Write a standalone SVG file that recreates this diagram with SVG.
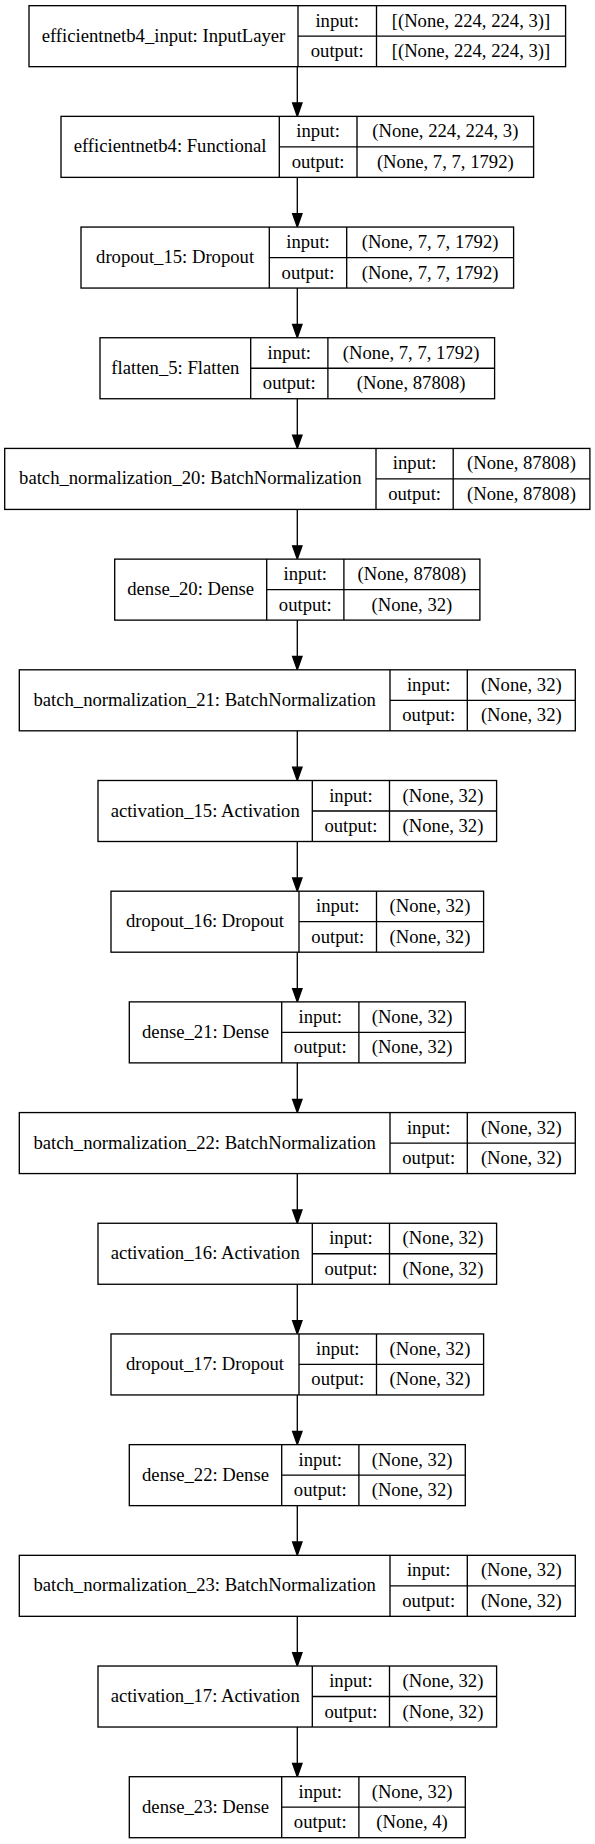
<svg xmlns="http://www.w3.org/2000/svg" width="595" height="1844" viewBox="0 0 595 1844">
<style>
.b{fill:#fff;stroke:#000;stroke-width:1.33}
.l{stroke:#000;stroke-width:1.33;fill:none}
.h{fill:#000;stroke:#000;stroke-width:1.33}
text{font-family:"Liberation Serif","Times New Roman",serif;font-size:18.67px;fill:#000;text-anchor:middle}
</style>
<rect width="595" height="1844" fill="#fff"/>
<g id="connectors">
<line class="l" x1="297.3" y1="66.7" x2="297.3" y2="103"/><polygon class="h" points="297.3,116.4 292.6,103 302,103"/>
<line class="l" x1="297.3" y1="177.4" x2="297.3" y2="213.7"/><polygon class="h" points="297.3,227.1 292.6,213.7 302,213.7"/>
<line class="l" x1="297.3" y1="288.1" x2="297.3" y2="324.4"/><polygon class="h" points="297.3,337.7 292.6,324.4 302,324.4"/>
<line class="l" x1="297.3" y1="398.7" x2="297.3" y2="435.1"/><polygon class="h" points="297.3,448.4 292.6,435.1 302,435.1"/>
<line class="l" x1="297.3" y1="509.4" x2="297.3" y2="545.8"/><polygon class="h" points="297.3,559.1 292.6,545.8 302,545.8"/>
<line class="l" x1="297.3" y1="620.1" x2="297.3" y2="656.5"/><polygon class="h" points="297.3,669.8 292.6,656.5 302,656.5"/>
<line class="l" x1="297.3" y1="730.8" x2="297.3" y2="767.2"/><polygon class="h" points="297.3,780.5 292.6,767.2 302,767.2"/>
<line class="l" x1="297.3" y1="841.5" x2="297.3" y2="877.9"/><polygon class="h" points="297.3,891.2 292.6,877.9 302,877.9"/>
<line class="l" x1="297.3" y1="952.2" x2="297.3" y2="988.6"/><polygon class="h" points="297.3,1001.9 292.6,988.6 302,988.6"/>
<line class="l" x1="297.3" y1="1062.9" x2="297.3" y2="1099.3"/><polygon class="h" points="297.3,1112.6 292.6,1099.3 302,1099.3"/>
<line class="l" x1="297.3" y1="1173.6" x2="297.3" y2="1209.9"/><polygon class="h" points="297.3,1223.3 292.6,1209.9 302,1209.9"/>
<line class="l" x1="297.3" y1="1284.3" x2="297.3" y2="1320.6"/><polygon class="h" points="297.3,1334 292.6,1320.6 302,1320.6"/>
<line class="l" x1="297.3" y1="1395" x2="297.3" y2="1431.3"/><polygon class="h" points="297.3,1444.6 292.6,1431.3 302,1431.3"/>
<line class="l" x1="297.3" y1="1505.6" x2="297.3" y2="1542"/><polygon class="h" points="297.3,1555.3 292.6,1542 302,1542"/>
<line class="l" x1="297.3" y1="1616.3" x2="297.3" y2="1652.7"/><polygon class="h" points="297.3,1666 292.6,1652.7 302,1652.7"/>
<line class="l" x1="297.3" y1="1727" x2="297.3" y2="1763.4"/><polygon class="h" points="297.3,1776.7 292.6,1763.4 302,1763.4"/>
</g>
<g id="n1" transform="translate(0,5.67)">
<rect class="b" x="29" y="0" width="536.6" height="61"/>
<path class="l" d="M298,0V61M376.5,0V61M298,30.5H565.6"/>
<text x="163.5" y="36">efficientnetb4_input: InputLayer</text>
<text x="337.2" y="21">input:</text><text x="337.2" y="51.5">output:</text>
<text x="471" y="21">[(None, 224, 224, 3)]</text><text x="471" y="51.5">[(None, 224, 224, 3)]</text>
</g>
<g id="n2" transform="translate(0,116.36)">
<rect class="b" x="61" y="0" width="472.6" height="61"/>
<path class="l" d="M279.3,0V61M357,0V61M279.3,30.5H533.6"/>
<text x="170.1" y="36">efficientnetb4: Functional</text>
<text x="318.1" y="21">input:</text><text x="318.1" y="51.5">output:</text>
<text x="445.3" y="21">(None, 224, 224, 3)</text><text x="445.3" y="51.5">(None, 7, 7, 1792)</text>
</g>
<g id="n3" transform="translate(0,227.05)">
<rect class="b" x="81" y="0" width="432.6" height="61"/>
<path class="l" d="M269.3,0V61M346.7,0V61M269.3,30.5H513.6"/>
<text x="175.1" y="36">dropout_15: Dropout</text>
<text x="308" y="21">input:</text><text x="308" y="51.5">output:</text>
<text x="430.1" y="21">(None, 7, 7, 1792)</text><text x="430.1" y="51.5">(None, 7, 7, 1792)</text>
</g>
<g id="n4" transform="translate(0,337.74)">
<rect class="b" x="100" y="0" width="394.6" height="61"/>
<path class="l" d="M250.7,0V61M327.9,0V61M250.7,30.5H494.6"/>
<text x="175.3" y="36">flatten_5: Flatten</text>
<text x="289.3" y="21">input:</text><text x="289.3" y="51.5">output:</text>
<text x="411.2" y="21">(None, 7, 7, 1792)</text><text x="411.2" y="51.5">(None, 87808)</text>
</g>
<g id="n5" transform="translate(0,448.43)">
<rect class="b" x="4.7" y="0" width="585.2" height="61"/>
<path class="l" d="M376,0V61M453.2,0V61M376,30.5H589.9"/>
<text x="190.3" y="36">batch_normalization_20: BatchNormalization</text>
<text x="414.6" y="21">input:</text><text x="414.6" y="51.5">output:</text>
<text x="521.5" y="21">(None, 87808)</text><text x="521.5" y="51.5">(None, 87808)</text>
</g>
<g id="n6" transform="translate(0,559.12)">
<rect class="b" x="114.7" y="0" width="365.2" height="61"/>
<path class="l" d="M266.7,0V61M343.9,0V61M266.7,30.5H479.9"/>
<text x="190.7" y="36">dense_20: Dense</text>
<text x="305.3" y="21">input:</text><text x="305.3" y="51.5">output:</text>
<text x="411.9" y="21">(None, 87808)</text><text x="411.9" y="51.5">(None, 32)</text>
</g>
<g id="n7" transform="translate(0,669.81)">
<rect class="b" x="19.3" y="0" width="556" height="61"/>
<path class="l" d="M390,0V61M467.3,0V61M390,30.5H575.3"/>
<text x="204.7" y="36">batch_normalization_21: BatchNormalization</text>
<text x="428.7" y="21">input:</text><text x="428.7" y="51.5">output:</text>
<text x="521.3" y="21">(None, 32)</text><text x="521.3" y="51.5">(None, 32)</text>
</g>
<g id="n8" transform="translate(0,780.5)">
<rect class="b" x="98" y="0" width="398.6" height="61"/>
<path class="l" d="M312.3,0V61M389.5,0V61M312.3,30.5H496.6"/>
<text x="205.2" y="36">activation_15: Activation</text>
<text x="350.9" y="21">input:</text><text x="350.9" y="51.5">output:</text>
<text x="443" y="21">(None, 32)</text><text x="443" y="51.5">(None, 32)</text>
</g>
<g id="n9" transform="translate(0,891.19)">
<rect class="b" x="111" y="0" width="372.6" height="61"/>
<path class="l" d="M299,0V61M376.5,0V61M299,30.5H483.6"/>
<text x="205" y="36">dropout_16: Dropout</text>
<text x="337.8" y="21">input:</text><text x="337.8" y="51.5">output:</text>
<text x="430" y="21">(None, 32)</text><text x="430" y="51.5">(None, 32)</text>
</g>
<g id="n10" transform="translate(0,1001.88)">
<rect class="b" x="129.3" y="0" width="336" height="61"/>
<path class="l" d="M281.7,0V61M358.9,0V61M281.7,30.5H465.3"/>
<text x="205.5" y="36">dense_21: Dense</text>
<text x="320.3" y="21">input:</text><text x="320.3" y="51.5">output:</text>
<text x="412.1" y="21">(None, 32)</text><text x="412.1" y="51.5">(None, 32)</text>
</g>
<g id="n11" transform="translate(0,1112.57)">
<rect class="b" x="19.3" y="0" width="556" height="61"/>
<path class="l" d="M390,0V61M467.3,0V61M390,30.5H575.3"/>
<text x="204.7" y="36">batch_normalization_22: BatchNormalization</text>
<text x="428.7" y="21">input:</text><text x="428.7" y="51.5">output:</text>
<text x="521.3" y="21">(None, 32)</text><text x="521.3" y="51.5">(None, 32)</text>
</g>
<g id="n12" transform="translate(0,1223.26)">
<rect class="b" x="98" y="0" width="398.6" height="61"/>
<path class="l" d="M312.3,0V61M389.5,0V61M312.3,30.5H496.6"/>
<text x="205.2" y="36">activation_16: Activation</text>
<text x="350.9" y="21">input:</text><text x="350.9" y="51.5">output:</text>
<text x="443" y="21">(None, 32)</text><text x="443" y="51.5">(None, 32)</text>
</g>
<g id="n13" transform="translate(0,1333.95)">
<rect class="b" x="111" y="0" width="372.6" height="61"/>
<path class="l" d="M299,0V61M376.5,0V61M299,30.5H483.6"/>
<text x="205" y="36">dropout_17: Dropout</text>
<text x="337.8" y="21">input:</text><text x="337.8" y="51.5">output:</text>
<text x="430" y="21">(None, 32)</text><text x="430" y="51.5">(None, 32)</text>
</g>
<g id="n14" transform="translate(0,1444.64)">
<rect class="b" x="129.3" y="0" width="336" height="61"/>
<path class="l" d="M281.7,0V61M358.9,0V61M281.7,30.5H465.3"/>
<text x="205.5" y="36">dense_22: Dense</text>
<text x="320.3" y="21">input:</text><text x="320.3" y="51.5">output:</text>
<text x="412.1" y="21">(None, 32)</text><text x="412.1" y="51.5">(None, 32)</text>
</g>
<g id="n15" transform="translate(0,1555.33)">
<rect class="b" x="19.3" y="0" width="556" height="61"/>
<path class="l" d="M390,0V61M467.3,0V61M390,30.5H575.3"/>
<text x="204.7" y="36">batch_normalization_23: BatchNormalization</text>
<text x="428.7" y="21">input:</text><text x="428.7" y="51.5">output:</text>
<text x="521.3" y="21">(None, 32)</text><text x="521.3" y="51.5">(None, 32)</text>
</g>
<g id="n16" transform="translate(0,1666.02)">
<rect class="b" x="98" y="0" width="398.6" height="61"/>
<path class="l" d="M312.3,0V61M389.5,0V61M312.3,30.5H496.6"/>
<text x="205.2" y="36">activation_17: Activation</text>
<text x="350.9" y="21">input:</text><text x="350.9" y="51.5">output:</text>
<text x="443" y="21">(None, 32)</text><text x="443" y="51.5">(None, 32)</text>
</g>
<g id="n17" transform="translate(0,1776.71)">
<rect class="b" x="129.3" y="0" width="336" height="61"/>
<path class="l" d="M281.7,0V61M358.9,0V61M281.7,30.5H465.3"/>
<text x="205.5" y="36">dense_23: Dense</text>
<text x="320.3" y="21">input:</text><text x="320.3" y="51.5">output:</text>
<text x="412.1" y="21">(None, 32)</text><text x="412.1" y="51.5">(None, 4)</text>
</g>
</svg>
